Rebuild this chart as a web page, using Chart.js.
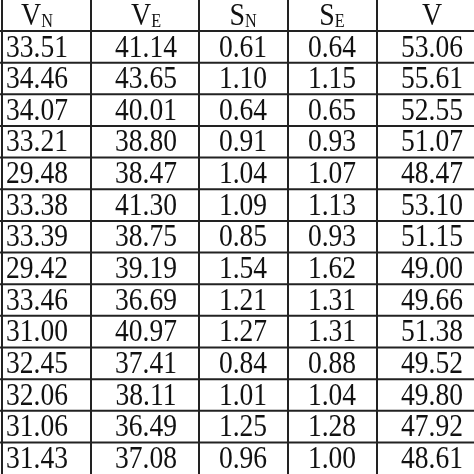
<!DOCTYPE html>
<html>
<head>
<meta charset="utf-8">
<script src="https://cdn.jsdelivr.net/npm/chart.js@4"></script>
<style>
  html, body { margin: 0; padding: 0; background: #fff; }
  #wrap { width: 474px; height: 474px; }
</style>
</head>
<body>
<div id="wrap"><canvas id="c"></canvas></div>
<script>
// table data
const headers = [['V', 'N'], ['V', 'E'], ['S', 'N'], ['S', 'E'], ['V', '']];
const colVN = ['33.51','34.46','34.07','33.21','29.48','33.38','33.39','29.42','33.46','31.00','32.45','32.06','31.06','31.43'];
const colVE = ['41.14','43.65','40.01','38.80','38.47','41.30','38.75','39.19','36.69','40.97','37.41','38.11','36.49','37.08'];
const colSN = ['0.61','1.10','0.64','0.91','1.04','1.09','0.85','1.54','1.21','1.27','0.84','1.01','1.25','0.96'];
const colSE = ['0.64','1.15','0.65','0.93','1.07','1.13','0.93','1.62','1.31','1.31','0.88','1.04','1.28','1.00'];
const colV  = ['53.06','55.61','52.55','51.07','48.47','53.10','51.15','49.00','49.66','51.38','49.52','49.80','47.92','48.61'];
const columns = [colVN, colVE, colSN, colSE, colV];

// layout (table units = pixels of the 474 box)
const colCenters = [37, 146, 243, 332, 432];
const colLines = [2, 91, 199, 288, 377];
const headerBottom = 31;
const rowH = 31.65;

const tablePlugin = {
  id: 'table',
  afterDraw(chart) {
    const ctx = chart.ctx;
    const xs = chart.scales.x, ys = chart.scales.y;
    const X = v => xs.getPixelForValue(v);
    const Y = v => ys.getPixelForValue(v);
    ctx.save();
    ctx.strokeStyle = '#222';
    ctx.lineWidth = 2;
    colLines.forEach(x => {
      ctx.beginPath(); ctx.moveTo(X(x), Y(0)); ctx.lineTo(X(x), Y(474)); ctx.stroke();
    });
    for (let r = 0; r < colV.length; r++) {
      const y = headerBottom + r * rowH;
      ctx.beginPath(); ctx.moveTo(X(0), Y(y)); ctx.lineTo(X(474), Y(y)); ctx.stroke();
    }
    ctx.fillStyle = '#111';
    ctx.textBaseline = 'alphabetic';
    const txt = (s, cx, base, size, sx) => {
      ctx.save();
      ctx.translate(X(cx), Y(base));
      ctx.scale(sx, 1);
      ctx.font = size + 'px "Liberation Serif", "DejaVu Serif", serif';
      ctx.textAlign = 'center';
      ctx.fillText(s, 0, 0);
      ctx.restore();
    };
    // header
    headers.forEach((h, i) => {
      ctx.font = '31px "Liberation Serif", serif';
      const wMain = ctx.measureText(h[0]).width * 0.9;
      ctx.font = '18px "Liberation Serif", serif';
      const wSub = ctx.measureText(h[1]).width * 0.9;
      const start = colCenters[i] - (wMain + wSub) / 2;
      txt(h[0], start + wMain / 2, 25, 31, 0.9);
      if (h[1]) txt(h[1], start + wMain + wSub / 2, 27, 18, 0.9);
    });
    // body
    columns.forEach((col, i) => {
      col.forEach((s, r) => {
        txt(s, colCenters[i], headerBottom + r * rowH + 25.5, 32, 0.86);
      });
    });
    ctx.restore();
  }
};

new Chart(document.getElementById('c'), {
  type: 'scatter',
  data: { datasets: [{ data: [] }] },
  options: {
    responsive: true,
    maintainAspectRatio: false,
    animation: false,
    layout: { padding: 0 },
    plugins: { legend: { display: false }, tooltip: { enabled: false } },
    scales: {
      x: { type: 'linear', min: 0, max: 474, display: false },
      y: { type: 'linear', min: 0, max: 474, reverse: true, display: false }
    }
  },
  plugins: [tablePlugin]
});
</script>
</body>
</html>
